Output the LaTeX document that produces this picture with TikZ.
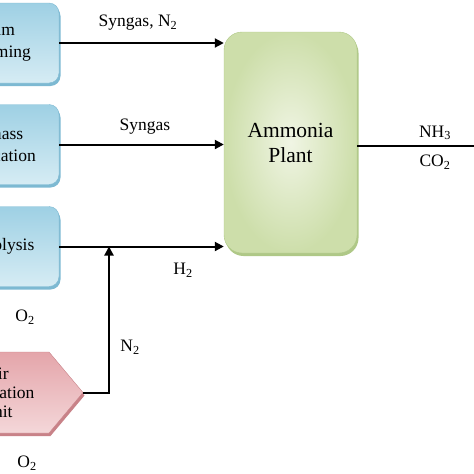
\documentclass[tikz,border=0pt]{standalone}
\usepackage{fontspec}
\setmainfont{Liberation Serif}
\usetikzlibrary{arrows.meta,shapes.symbols,shadows}
\definecolor{boxblue}{RGB}{158,208,228}
\definecolor{boxlight}{RGB}{214,236,244}
\definecolor{blueedge}{RGB}{125,185,210}
\definecolor{plantgreen}{RGB}{205,222,170}
\definecolor{plantlight}{RGB}{240,245,228}
\definecolor{greenedge}{RGB}{175,200,135}
\definecolor{asupink}{RGB}{228,165,170}
\definecolor{asulight}{RGB}{244,215,217}
\definecolor{pinkedge}{RGB}{200,130,136}
\begin{document}
\begin{tikzpicture}[x=1pt, y=-1pt, >={Triangle[length=9pt,width=9pt]},
    unit/.style={draw=blueedge, rounded corners=10pt, top color=boxblue, bottom color=boxlight,
      minimum width=132pt, minimum height=80pt, align=center, font=\fontsize{17.5}{22}\selectfont,
      drop shadow={shadow xshift=1.5pt, shadow yshift=-3pt, fill=blueedge, opacity=1}},
    plantbox/.style={draw=greenedge, rounded corners=18pt, inner color=plantlight, outer color=plantgreen,
      minimum width=133pt, minimum height=221pt, align=center, font=\fontsize{21.5}{25}\selectfont,
      drop shadow={shadow xshift=1.5pt, shadow yshift=-3pt, fill=greenedge, opacity=1}},
    asubox/.style={signal, signal to=east, signal pointer angle=100, draw=pinkedge,
      top color=asupink, bottom color=asulight, minimum width=138pt, minimum height=81pt,
      align=center, font=\fontsize{17.5}{19}\selectfont,
      drop shadow={shadow xshift=1.5pt, shadow yshift=-3pt, fill=pinkedge, opacity=1}},
    flow/.style={->, line width=2pt},
    lbl/.style={font=\fontsize{17.5}{21}\selectfont}]
    \useasboundingbox (0,0) rectangle (474,474);
    \clip (0,0) rectangle (474,474);

    % supply units (cut by the left edge)
    \node[unit] (reform) at (-7,43) {Steam\\Reforming};
    \node[unit] (biomass) at (-7,144.5) {Biomass\\Gasification};
    \node[unit] (electro) at (-7,246.5) {Electrolysis};
    \node[asubox] (asu) at (-3,392.5) {Air\\Separation\\Unit};

    % ammonia plant
    \node[plantbox] (plant) at (290.5,142.5) {Ammonia\\Plant};

    % streams into the plant
    \draw[flow] (reform.east) -- (reform.east -| plant.west);
    \draw[flow] (biomass.east) -- (biomass.east -| plant.west);
    \draw[flow] (electro.east) -- (electro.east -| plant.west);
    \coordinate (join) at (109,246.5);
    \draw[flow] (asu.east) -| (join);

    % product line
    \coordinate (out) at (480,146);
    \draw[line width=2pt] (plant.east |- out) -- (out);

    % stream labels
    \node[lbl] (lsyn1) at (138,23) {Syngas, N\textsubscript{2}};
    \node[lbl] (lsyn2) at (145,127) {Syngas};
    \node[lbl] (lh2) at (183,270) {H\textsubscript{2}};
    \node[lbl] (ln2) at (130,347) {N\textsubscript{2}};
    \node[lbl] (lo2a) at (25,317) {O\textsubscript{2}};
    \node[lbl] (lo2b) at (27,463) {O\textsubscript{2}};
    \node[lbl] (lnh3) at (435,133) {NH\textsubscript{3}};
    \node[lbl] (lco2) at (435,162) {CO\textsubscript{2}};
\end{tikzpicture}
\end{document}
